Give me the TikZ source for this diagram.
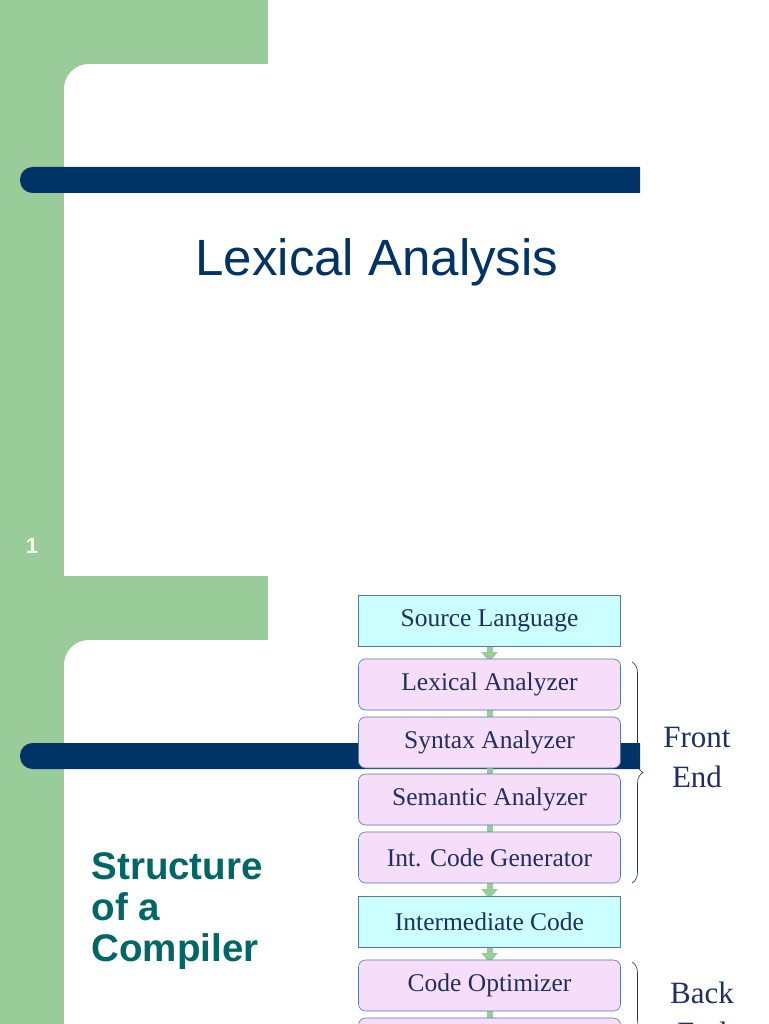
\documentclass[tikz,border=0pt]{standalone}
\usepackage{fontspec}
\setmainfont{Liberation Sans}
\newfontfamily\boxfont{Liberation Serif}
\usetikzlibrary{decorations.pathreplacing,arrows.meta}
\definecolor{slgreen}{HTML}{99CC99}
\definecolor{slblue}{HTML}{003366}
\definecolor{txblue}{HTML}{1F2F5F}
\definecolor{teal2}{HTML}{006666}
\definecolor{cybox}{HTML}{CCFFFF}
\definecolor{pkbox}{HTML}{F6DDFA}
\definecolor{edge}{HTML}{5577AA}
\begin{document}
\begin{tikzpicture}[x=1pt,y=-1pt,
  stage/.style={draw=edge, line width=0.6pt, minimum width=262pt, minimum height=51pt,
    inner sep=0pt, font=\boxfont\fontsize{25.5}{28}\selectfont, text=txblue},
  plain/.style={stage, fill=cybox},
  pass/.style={stage, fill=pkbox, rounded corners=7pt},
  flow/.style={draw=slgreen, line width=6pt, -{Triangle[width=16pt,length=10pt]}, shorten >=-1pt},
  link/.style={draw=slgreen, line width=6pt},
  bar/.style={fill=slblue},
  grp/.style={draw=txblue, line width=0.6pt, decorate, decoration={brace, amplitude=11pt}},
  side/.style={font=\boxfont\fontsize{31}{40}\selectfont, text=txblue, align=center}]
\useasboundingbox (0,0) rectangle (768,1024);
\clip (0,0) rectangle (768,1024);
\fill[white] (0,0) rectangle (768,1024);
% slide frames
\foreach \t in {0,576}{
  \fill[slgreen] (0,\t) rectangle (268,\t+64);
  \fill[slgreen] (0,\t) rectangle (64,\t+576);
  \fill[slgreen] (64,\t+64) rectangle (89,\t+89);
  \fill[white] (89,\t+89) circle (25);
}
\fill[bar] (640,167) [rounded corners=12.5pt] -- (20,167) -- (20,193) [sharp corners] -- (640,193) -- cycle;
\fill[bar] (640,743) [rounded corners=12.5pt] -- (20,743) -- (20,769) [sharp corners] -- (640,769) -- cycle;
% slide 1
\node (title) at (377,262) {\fontsize{51}{60}\selectfont\color{slblue}Lexical Analysis};
\node (num) at (32,546) {\fontsize{22}{26}\selectfont\bfseries\color{white}1};
% slide 2
\node[anchor=west, align=left, text=teal2, font=\fontsize{38.5}{41}\selectfont\bfseries] (head) at (88,911) {Structure\\of a\\Compiler};
\path[flow] (489.5,640) -- (489.5,661);
\path[link] (489.5,705) -- (489.5,722);
\path[link] (489.5,763) -- (489.5,779);
\path[link] (489.5,820) -- (489.5,837);
\path[flow] (489.5,878) -- (489.5,898);
\path[flow] (489.5,942) -- (489.5,962);
\path[link] (489.5,1006) -- (489.5,1023);
\node[plain] (src) at (489.5,621) {Source Language};
\node[pass] (lex) at (489.5,684.5) {Lexical Analyzer};
\node[pass] (syn) at (489.5,742.5) {Syntax Analyzer};
\node[pass] (sem) at (489.5,799.5) {Semantic Analyzer};
\node[pass] (icg) at (489.5,857.5) {Int. Code Generator};
\node[plain] (ic) at (489.5,921.5) {Intermediate Code};
\node[pass] (opt) at (489.5,985.5) {Code Optimizer};
\node[pass] (cg) at (489.5,1043.5) {};
\draw[grp] (632,662) -- (632,883);
\draw[grp] (632,962) -- (632,1100);
\node[side] (fe) at (697,757) {Front\\End};
\node[side] (be) at (702,1013) {Back\\End};
\end{tikzpicture}
\end{document}
